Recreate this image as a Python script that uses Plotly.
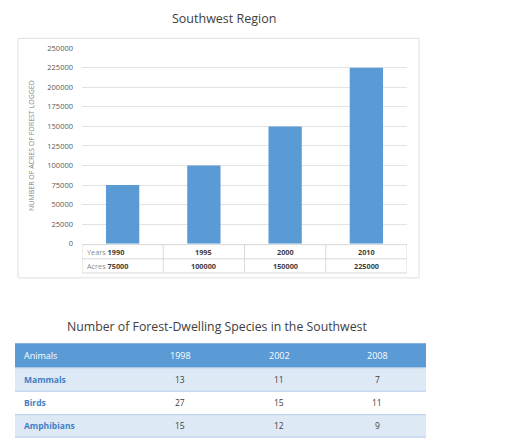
import plotly.graph_objects as go

# bar chart data
years = ["1990", "1995", "2000", "2010"]
acres = [75000, 100000, 150000, 225000]
row_labels = ["Years", "Acres"]

# species table data
table_header = ["Animals", "1998", "2002", "2008"]
animals = ["Mammals", "Birds", "Amphibians"]
species_1998 = [13, 27, 15]
species_2002 = [11, 15, 12]
species_2008 = [7, 11, 9]

# page body has an 8px margin, so work in page pixels and shift
OFF = 8
W, H = 512 - OFF, 444 - OFF + 6
BLUE = "#5b9bd5"
FONT = "Open Sans"


def px_x(px):
    return (px - OFF) / W


def px_y(py):
    return 1 - (py - OFF) / H


fig = go.Figure()

fig.add_trace(
    go.Bar(
        x=years,
        y=acres,
        marker=dict(color=BLUE, line=dict(width=0)),
        hoverinfo="x+y",
    )
)

shapes = [
    dict(
        type="rect", xref="paper", yref="paper",
        x0=px_x(18), x1=px_x(419), y0=px_y(279), y1=px_y(34),
        line=dict(color="#e0e0e0", width=1), layer="below",
    ),
]
annotations = [
    dict(
        text="Southwest Region", xref="paper", yref="paper",
        x=px_x(224), y=px_y(14), xanchor="center", yanchor="middle",
        showarrow=False, font=dict(family=FONT, size=12.5, color="#404040"),
    ),
    dict(
        text="NUMBER OF ACRES OF FOREST LOGGED", xref="paper", yref="paper",
        x=px_x(32), y=px_y(144), xanchor="center", yanchor="middle",
        textangle=-90, showarrow=False,
        font=dict(family=FONT, size=7, color="#7f7f7f"),
    ),
    dict(
        text="Number of Forest-Dwelling Species in the Southwest",
        xref="paper", yref="paper",
        x=px_x(217), y=px_y(329), xanchor="center", yanchor="middle",
        showarrow=False, font=dict(family=FONT, size=12.3, color="#404040"),
    ),
]

# data table under the bars, drawn on the category axis
tbl_top, tbl_mid, tbl_bot = px_y(245), px_y(259.5), px_y(274)
for y in (tbl_top, tbl_mid, tbl_bot):
    shapes.append(
        dict(
            type="line", xref="x", yref="paper",
            x0=-0.5, x1=len(years) - 0.5, y0=y, y1=y,
            line=dict(color="#d9d9d9", width=1),
        )
    )
for i in range(len(years) + 1):
    shapes.append(
        dict(
            type="line", xref="x", yref="paper",
            x0=i - 0.5, x1=i - 0.5, y0=tbl_bot, y1=tbl_top,
            line=dict(color="#d9d9d9", width=1),
        )
    )
for row_y, label, vals in (
    ((tbl_top + tbl_mid) / 2, row_labels[0], years),
    ((tbl_mid + tbl_bot) / 2, row_labels[1], acres),
):
    for i, v in enumerate(vals):
        if i == 0:
            annotations.append(
                dict(
                    text=f"<span style='color:#8c8c8c'>{label}</span> <b>{v}</b>",
                    xref="x", yref="paper", x=-0.5, xshift=3,
                    y=row_y, xanchor="left", yanchor="middle", showarrow=False,
                    font=dict(family=FONT, size=7.3, color="#404040"),
                )
            )
        else:
            annotations.append(
                dict(
                    text=f"<b>{v}</b>", xref="x", yref="paper", x=i,
                    y=row_y, xanchor="center", yanchor="middle", showarrow=False,
                    font=dict(family=FONT, size=7.3, color="#404040"),
                )
            )

# species table, drawn as filled rows with text
t_left, t_right = px_x(15), px_x(426)
col_x = [px_x(22), px_x(180), px_x(279), px_x(377)]
row_edges = [346, 371, 395, 419, 442]
row_fill = [BLUE, "#dde9f5", "white", "#dde9f5"]
body_cols = [animals, species_1998, species_2002, species_2008]

for r in range(len(row_edges) - 1):
    y0, y1 = px_y(row_edges[r + 1]), px_y(row_edges[r])
    shapes.append(
        dict(
            type="rect", xref="paper", yref="paper",
            x0=t_left, x1=t_right, y0=y0, y1=y1,
            fillcolor=row_fill[r], line=dict(width=0), layer="below",
        )
    )
    shapes.append(
        dict(
            type="line", xref="paper", yref="paper",
            x0=t_left, x1=t_right, y0=y0, y1=y0,
            line=dict(color="#b4cce9", width=1),
        )
    )
    ym = (y0 + y1) / 2
    for c in range(len(table_header)):
        if r == 0:
            text, color, size = table_header[c], "white", 9
        else:
            val = body_cols[c][r - 1]
            if c == 0:
                text, color, size = f"<b>{val}</b>", "#3f7fc6", 8.5
            else:
                text, color, size = str(val), "#404040", 8.5
        annotations.append(
            dict(
                text=text, xref="paper", yref="paper", x=col_x[c], y=ym,
                xanchor="left" if c == 0 else "center", yanchor="middle",
                showarrow=False, font=dict(family=FONT, size=size, color=color),
            )
        )

fig.update_layout(
    width=W,
    height=H,
    margin=dict(l=0, r=0, t=0, b=0),
    paper_bgcolor="white",
    plot_bgcolor="white",
    showlegend=False,
    bargap=0.59,
    font=dict(family=FONT, color="#595959"),
    xaxis=dict(
        domain=[px_x(82), px_x(407)],
        range=[-0.5, len(years) - 0.5],
        showticklabels=False,
        showgrid=False,
        zeroline=False,
        showline=False,
        ticks="",
    ),
    yaxis=dict(
        domain=[px_y(244), px_y(44)],
        range=[0, 250000],
        dtick=25000,
        tickformat="d",
        showgrid=True,
        gridcolor="#e3e3e3",
        gridwidth=1,
        zeroline=False,
        showline=False,
        ticks="",
        ticklabelstandoff=8,
        tickfont=dict(family=FONT, size=7.5, color="#595959"),
    ),
    shapes=shapes,
    annotations=annotations,
)

fig.write_html("out.html")
